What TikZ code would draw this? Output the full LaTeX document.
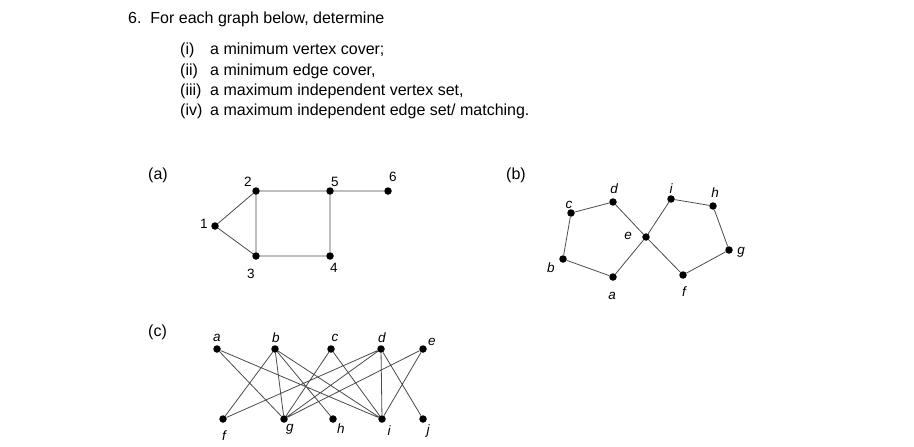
\documentclass[tikz,border=0pt]{standalone}
\usepackage{fontspec}
\setmainfont{Liberation Sans}
\begin{document}
\begin{tikzpicture}[x=1pt,y=-1pt,
  v/.style={circle,fill=black,inner sep=0pt,minimum size=7.5pt},
  e/.style={draw=black!70,line width=0.8pt},
  lbl/.style={font=\fontsize{13.5}{15}\selectfont,inner sep=0pt},
  txt/.style={font=\fontsize{16}{18}\selectfont,anchor=west,inner sep=0pt}]
\useasboundingbox[fill=white] (0,0) rectangle (914,447);
\node[txt] (t0) at (128,19) {6.\ \ For each graph below, determine};
\node[txt] (l1) at (180,50) {(i)}; \node[txt] (m1) at (210,50) {a minimum vertex cover;};
\node[txt] (l2) at (180,71) {(ii)}; \node[txt] (m2) at (210,71) {a minimum edge cover,};
\node[txt] (l3) at (180,91) {(iii)}; \node[txt] (m3) at (210,91) {a maximum independent vertex set,};
\node[txt] (l4) at (180,111) {(iv)}; \node[txt] (m4) at (210,111) {a maximum independent edge set/ matching.};
\node[txt] (pa) at (148,175) {(a)};
\node[txt] (pb) at (506,175) {(b)};
\node[txt] (pc) at (148,332) {(c)};
% graph a
\node[v] (a1) at (215,226) {}; \node[v] (a2) at (256,191) {}; \node[v] (a5) at (330,191) {};
\node[v] (a6) at (388,191) {}; \node[v] (a3) at (256,256) {}; \node[v] (a4) at (330,256) {};
\draw[e] (a1)--(a2) (a1)--(a3) (a2)--(a3) (a2)--(a5) (a5)--(a6) (a5)--(a4) (a3)--(a4);
\node[lbl] (k1) at (204,224) {1}; \node[lbl] (k2) at (248,182) {2}; \node[lbl] (k5) at (335,182) {5};
\node[lbl] (k6) at (393,177) {6}; \node[lbl] (k3) at (251,274) {3}; \node[lbl] (k4) at (334,268) {4};
% graph b
\node[v] (bd) at (613,202) {}; \node[v] (bc) at (571,213) {}; \node[v] (bb) at (563,259) {};
\node[v] (ba) at (613,277) {}; \node[v] (be) at (646,237) {}; \node[v] (bi) at (671,199) {};
\node[v] (bh) at (713,206) {}; \node[v] (bg) at (729,250) {}; \node[v] (bf) at (683,275) {};
\draw[e] (bc)--(bd)--(be)--(ba)--(bb)--(bc) (be)--(bi)--(bh)--(bg)--(bf)--(be);
\node[lbl] at (569,205) {\itshape c}; \node[lbl] at (614,189) {\itshape d};
\node[lbl] at (628,236) {\itshape e}; \node[lbl] at (671,189) {\itshape i};
\node[lbl] at (715,193) {\itshape h}; \node[lbl] at (741,252) {\itshape g};
\node[lbl] at (684,292) {\itshape f}; \node[lbl] at (612,296) {\itshape a};
\node[lbl] at (551,268) {\itshape b};
% graph c
\foreach \n/\x in {a/217,b/275,c/331,d/381,e/423}{\node[v] (c\n) at (\x,349) {};}
\foreach \n/\x in {f/223,g/284,h/333,i/382,j/423}{\node[v] (c\n) at (\x,419) {};}
\draw[e] (ca)--(cg) (ca)--(ci) (cb)--(cf) (cb)--(cg) (cb)--(ch) (cb)--(ci)
  (cc)--(cg) (cc)--(ci) (cd)--(cf) (cd)--(cg) (cd)--(ci) (cd)--(cj) (ce)--(cg) (ce)--(ci);
\node[lbl] at (217,338) {\itshape a}; \node[lbl] at (276,338) {\itshape b};
\node[lbl] at (335,338) {\itshape c}; \node[lbl] at (382,338) {\itshape d};
\node[lbl] at (432,342) {\itshape e}; \node[lbl] at (224,436) {\itshape f};
\node[lbl] at (290,429) {\itshape g}; \node[lbl] at (341,429) {\itshape h};
\node[lbl] at (389,431) {\itshape i}; \node[lbl] at (428,431) {\itshape j};
\end{tikzpicture}
\end{document}
